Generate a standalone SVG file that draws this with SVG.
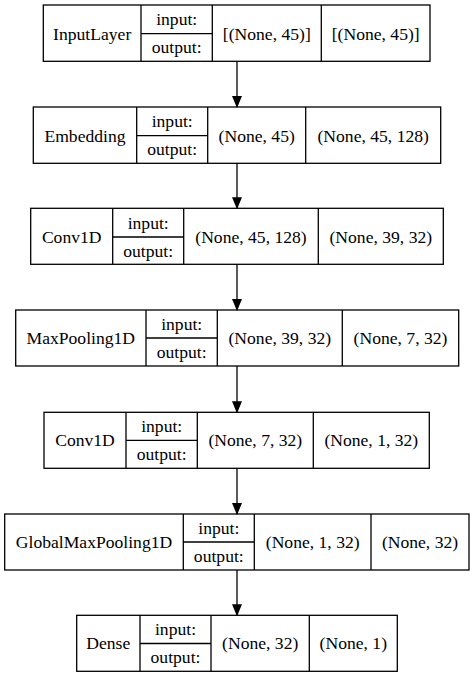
<svg xmlns="http://www.w3.org/2000/svg" width="474" height="677" viewBox="0 0 474 677">
<style>
.b{fill:none;stroke:#000;stroke-width:1.3}
.t{font-family:'Liberation Serif','Times New Roman',Times,'DejaVu Serif',serif;font-size:17.6px;fill:#000;text-anchor:middle}
.c{stroke:#000;stroke-width:1.3;fill:none;marker-end:url(#ah)}
</style>
<defs>
<marker id="ah" markerUnits="userSpaceOnUse" markerWidth="12" markerHeight="14" refX="11" refY="5" orient="auto" viewBox="0 0 12 10">
<path d="M0,0 L12,5 L0,10 Z" fill="#000"/>
</marker>
</defs>
<rect width="474" height="677" fill="#fff"/>
<g id="connectors">
<line class="c" x1="237" y1="61.3" x2="237" y2="107"/>
<line class="c" x1="237" y1="163.3" x2="237" y2="208.3"/>
<line class="c" x1="237" y1="264.3" x2="237" y2="310"/>
<line class="c" x1="237" y1="366" x2="237" y2="412.3"/>
<line class="c" x1="237" y1="468.3" x2="237" y2="514"/>
<line class="c" x1="237" y1="570" x2="237" y2="615.3"/>
</g>
<g font-family="Liberation Serif, serif">
<g id="n1">
<rect class="b" x="43.3" y="5" width="386.7" height="56.3"/>
<path class="b" d="M141,5V61.3M212.3,5V61.3M321.3,5V61.3M141,33.7H212.3"/>
<text class="t" x="92.2" y="39.5">InputLayer</text>
<text class="t" x="176.7" y="25">input:</text>
<text class="t" x="176.7" y="53.3">output:</text>
<text class="t" x="266.8" y="39.5">[(None, 45)]</text>
<text class="t" x="375.7" y="39.5">[(None, 45)]</text>
</g>
<g id="n2">
<rect class="b" x="33.3" y="107" width="407.4" height="56.3"/>
<path class="b" d="M136.7,107V163.3M207.7,107V163.3M305.7,107V163.3M136.7,135.7H207.7"/>
<text class="t" x="85" y="141.5">Embedding</text>
<text class="t" x="172.2" y="127">input:</text>
<text class="t" x="172.2" y="155.3">output:</text>
<text class="t" x="256.7" y="141.5">(None, 45)</text>
<text class="t" x="373.2" y="141.5">(None, 45, 128)</text>
</g>
<g id="n3">
<rect class="b" x="30.7" y="208.3" width="412.6" height="56"/>
<path class="b" d="M112.7,208.3V264.3M183.7,208.3V264.3M318.3,208.3V264.3M112.7,237H183.7"/>
<text class="t" x="71.7" y="242.8">Conv1D</text>
<text class="t" x="148.2" y="228.5">input:</text>
<text class="t" x="148.2" y="256.5">output:</text>
<text class="t" x="251" y="242.8">(None, 45, 128)</text>
<text class="t" x="380.8" y="242.8">(None, 39, 32)</text>
</g>
<g id="n4">
<rect class="b" x="15.7" y="310" width="443" height="56"/>
<path class="b" d="M146,310V366M217.3,310V366M342.3,310V366M146,338H217.3"/>
<text class="t" x="80.8" y="343.8">MaxPooling1D</text>
<text class="t" x="181.7" y="329.6">input:</text>
<text class="t" x="181.7" y="357.6">output:</text>
<text class="t" x="279.8" y="343.8">(None, 39, 32)</text>
<text class="t" x="400.5" y="343.8">(None, 7, 32)</text>
</g>
<g id="n5">
<rect class="b" x="44" y="412.3" width="385.3" height="56"/>
<path class="b" d="M126,412.3V468.3M197.3,412.3V468.3M313.3,412.3V468.3M126,440.3H197.3"/>
<text class="t" x="85" y="446.1">Conv1D</text>
<text class="t" x="161.7" y="431.9">input:</text>
<text class="t" x="161.7" y="459.9">output:</text>
<text class="t" x="255.3" y="446.1">(None, 7, 32)</text>
<text class="t" x="371.3" y="446.1">(None, 1, 32)</text>
</g>
<g id="n6">
<rect class="b" x="4.7" y="514" width="464.3" height="56"/>
<path class="b" d="M183.3,514V570M254.3,514V570M371,514V570M183.3,542H254.3"/>
<text class="t" x="94" y="547.8">GlobalMaxPooling1D</text>
<text class="t" x="218.8" y="533.6">input:</text>
<text class="t" x="218.8" y="561.6">output:</text>
<text class="t" x="312.7" y="547.8">(None, 1, 32)</text>
<text class="t" x="420" y="547.8">(None, 32)</text>
</g>
<g id="n7">
<rect class="b" x="76.7" y="615.3" width="320.6" height="56"/>
<path class="b" d="M140,615.3V671.3M211,615.3V671.3M309.3,615.3V671.3M140,643.5H211"/>
<text class="t" x="108.3" y="649.3">Dense</text>
<text class="t" x="175.5" y="635">input:</text>
<text class="t" x="175.5" y="663">output:</text>
<text class="t" x="260.2" y="649.3">(None, 32)</text>
<text class="t" x="353.3" y="649.3">(None, 1)</text>
</g>
</g>
</svg>
